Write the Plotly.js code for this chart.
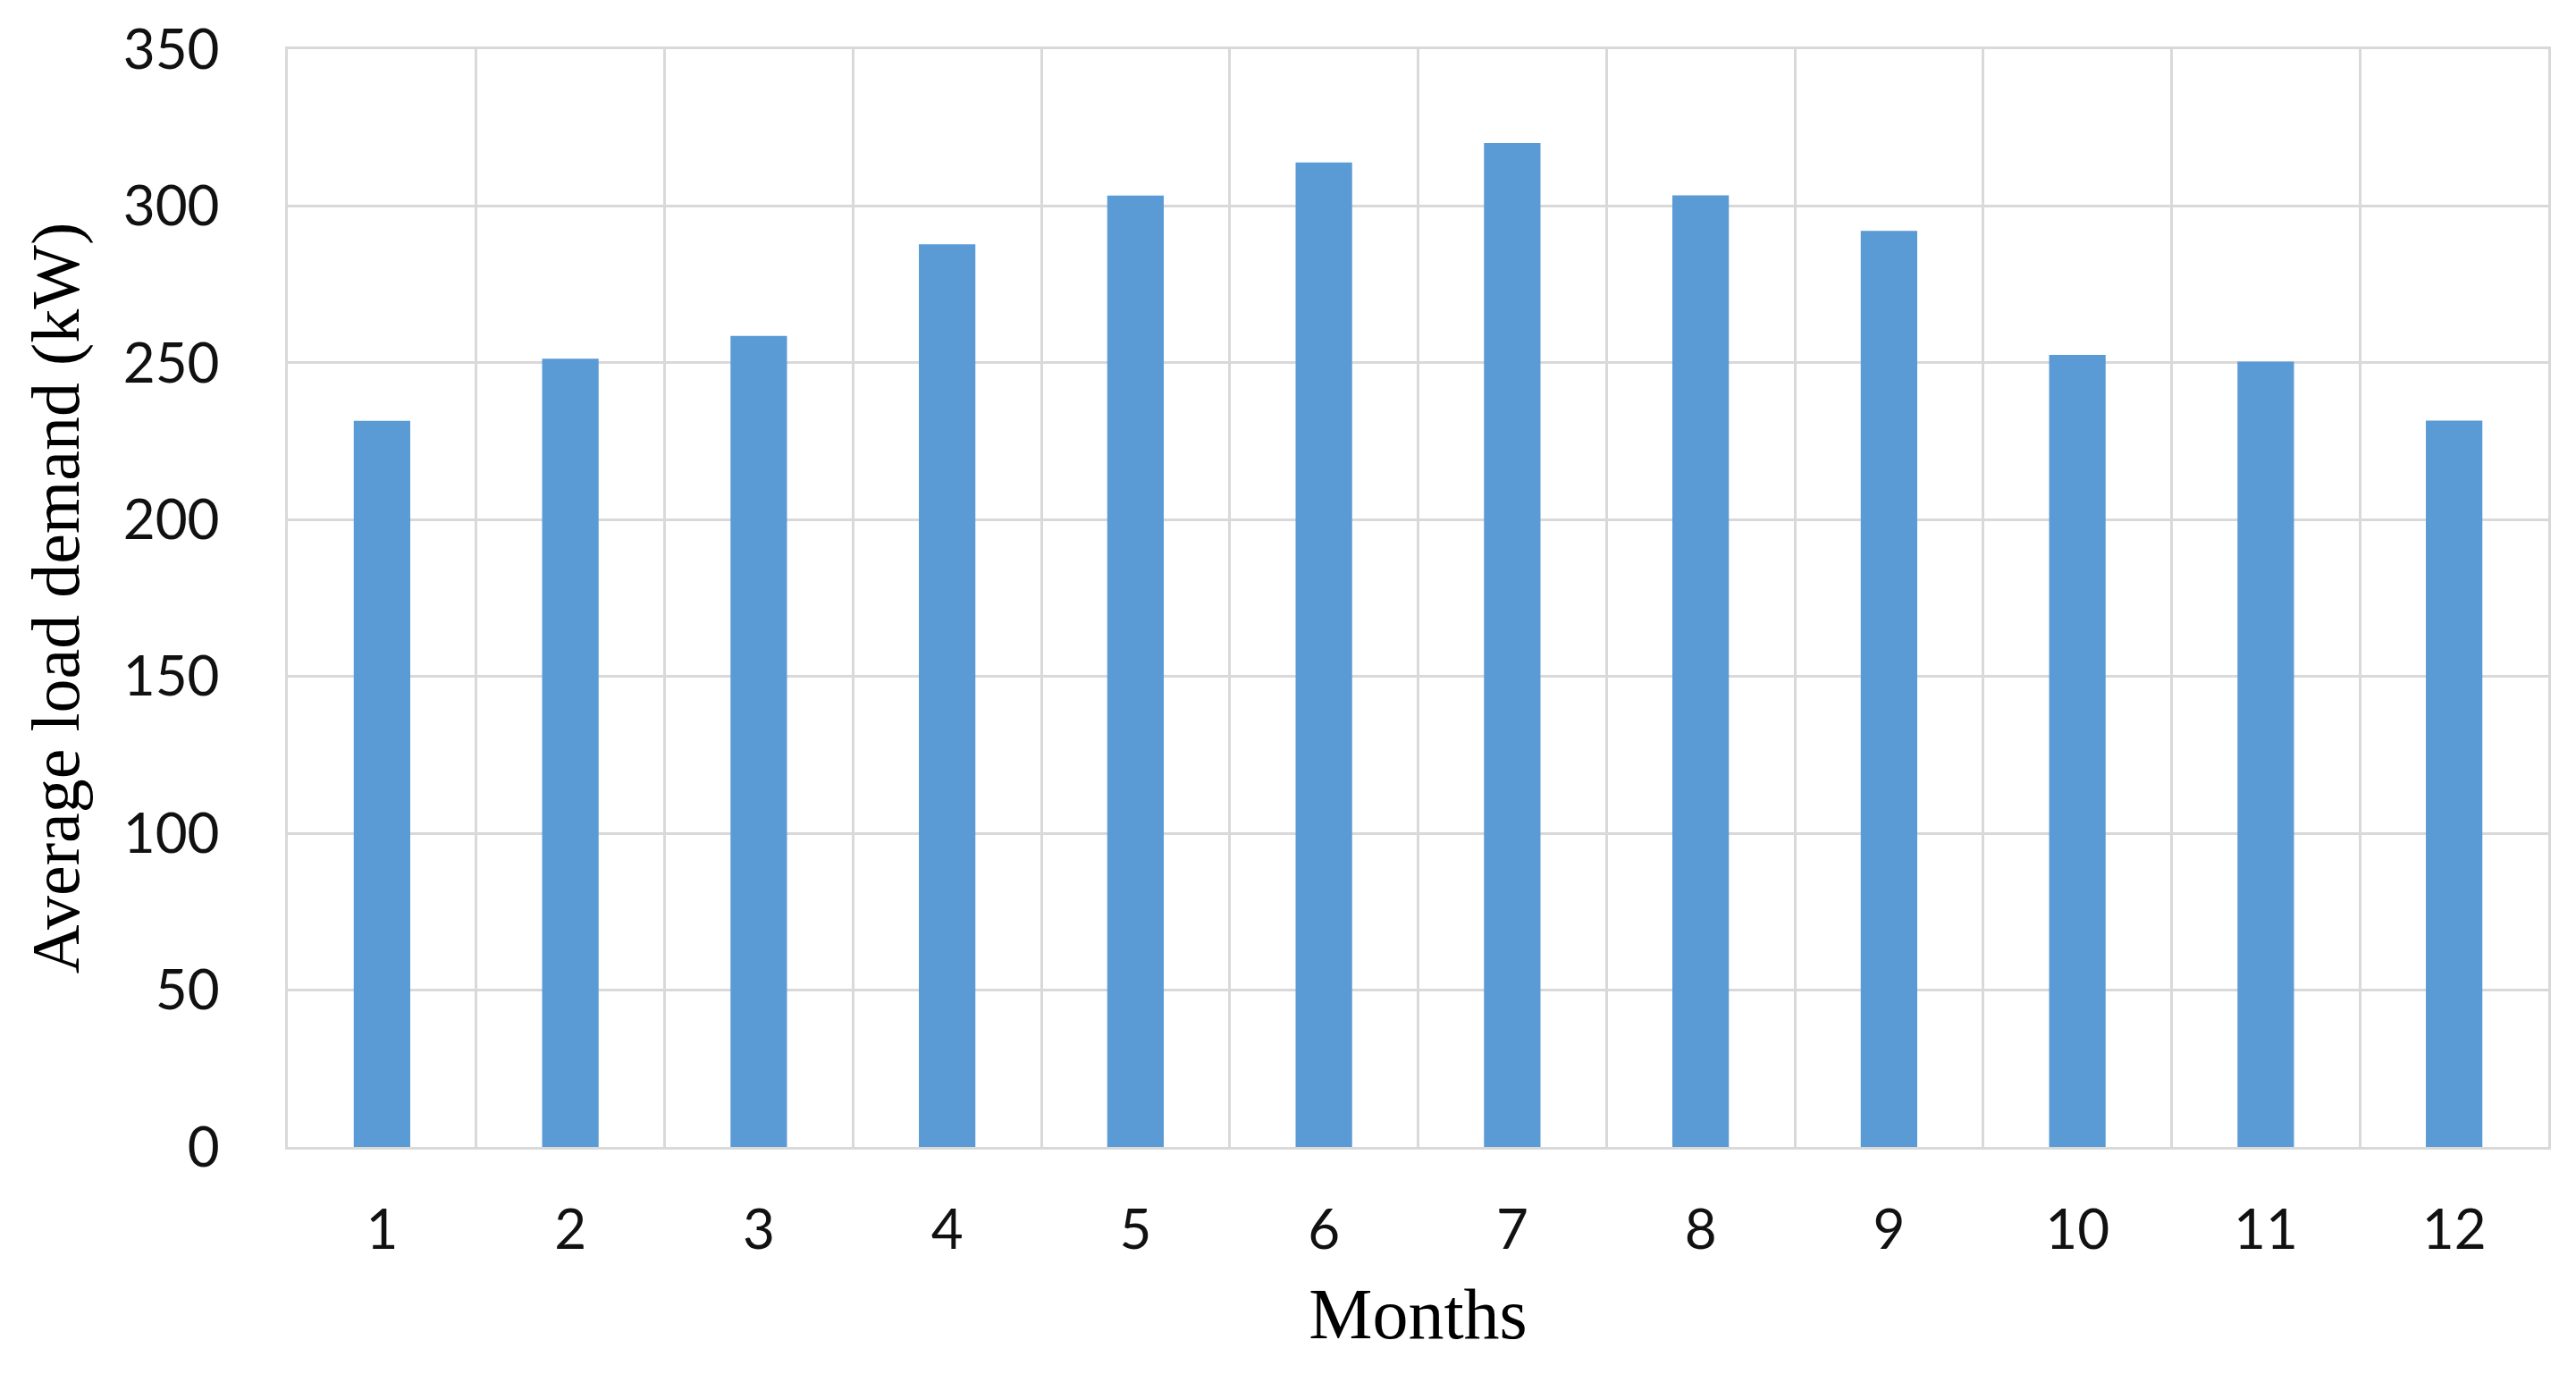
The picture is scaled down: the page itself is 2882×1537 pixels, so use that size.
<!DOCTYPE html>
<html>
<head>
<meta charset="utf-8">
<script src="https://cdn.plot.ly/plotly-3.0.1.min.js"></script>
<style>
  html, body { margin: 0; padding: 0; background: #ffffff; }
  #chart { width: 2882px; height: 1537px; }
</style>
</head>
<body>
<div id="chart"></div>
<script>
// Data
const months = ["1", "2", "3", "4", "5", "6", "7", "8", "9", "10", "11", "12"];
const loadDemand = [231.5, 251.3, 258.6, 287.8, 303.3, 313.9, 320.1, 303.4, 292.1, 252.5, 250.4, 231.6];
const yTicks = [0, 50, 100, 150, 200, 250, 300, 350];

const gridColor = "#d9d9d9";

const trace = {
  type: "bar",
  x: months,
  y: loadDemand,
  marker: { color: "#5b9bd5", line: { width: 0 } },
  hoverinfo: "x+y"
};

const layout = {
  width: 2882,
  height: 1537,
  paper_bgcolor: "#ffffff",
  plot_bgcolor: "#ffffff",
  margin: { l: 322, r: 31, t: 55, b: 254, pad: 0 },
  bargap: 0.70,
  showlegend: false,
  xaxis: {
    type: "category",
    tickson: "boundaries",
    showgrid: true,
    gridcolor: gridColor,
    gridwidth: 3,
    showline: true,
    linecolor: gridColor,
    linewidth: 3,
    mirror: true,
    ticks: "",
    ticklabelstandoff: 37,
    tickfont: { family: "Lato, 'Open Sans', sans-serif", size: 62, color: "#111111" },
    title: {
      text: "Months",
      font: { family: "'Liberation Serif', 'Times New Roman', serif", size: 80, color: "#000000" },
      standoff: 32
    }
  },
  yaxis: {
    range: [0, 350],
    tickvals: yTicks,
    ticktext: yTicks.map(String),
    showgrid: true,
    gridcolor: gridColor,
    gridwidth: 3,
    zeroline: false,
    showline: true,
    linecolor: gridColor,
    linewidth: 3,
    mirror: true,
    ticks: "",
    ticklabelstandoff: 61,
    tickfont: { family: "Lato, 'Open Sans', sans-serif", size: 62, color: "#111111" },
    title: {
      text: "Average load demand (kW)",
      font: { family: "'Liberation Serif', 'Times New Roman', serif", size: 76, color: "#000000" },
      standoff: 25
    }
  }
};

Plotly.newPlot("chart", [trace], layout, { displayModeBar: false, staticPlot: true });
</script>
</body>
</html>
